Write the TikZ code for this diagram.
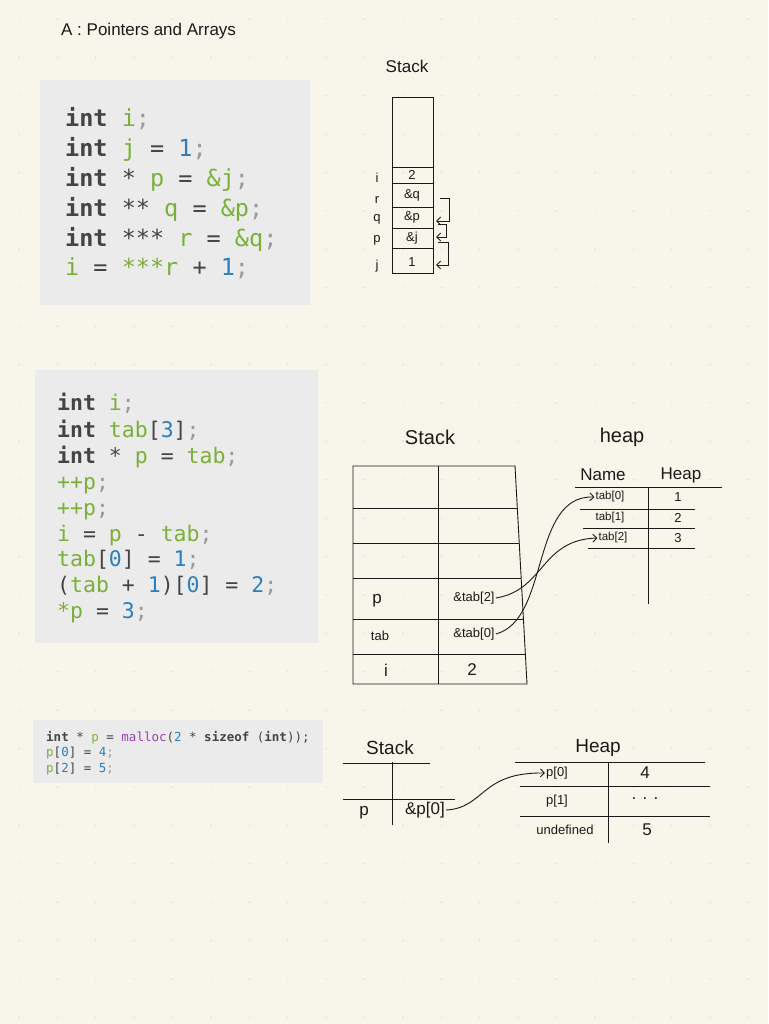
\documentclass[tikz,border=0pt]{standalone}
\usepackage{fontspec}
\setmainfont{Liberation Sans}
\newfontfamily\codefont{DejaVu Sans Mono}
\usetikzlibrary{arrows.meta}
\definecolor{bg}{HTML}{F8F6EA}
\definecolor{cbox}{HTML}{EBEBEB}
\definecolor{kw}{HTML}{444444}
\definecolor{idc}{HTML}{7AB03A}
\definecolor{nm}{HTML}{2C7FC0}
\definecolor{pu}{HTML}{9B3FB5}
\definecolor{sc}{HTML}{999999}
\definecolor{ink}{HTML}{1A1A1A}
\tikzset{
 hand/.style={font=\fontsize{17}{19}\selectfont, text=ink, inner sep=1pt},
 small/.style={font=\fontsize{13}{15}\selectfont, text=ink, inner sep=1pt},
 tiny/.style={font=\fontsize{11.5}{13}\selectfont, text=ink, inner sep=1pt},
 ln/.style={draw=ink, line width=0.9pt},
 arr/.style={draw=ink, line width=0.9pt, -{Straight Barb[length=4pt]}},
 codebase/.style={anchor=west, inner sep=0pt, text height=0.75em, text depth=0.25em},
 codeA/.style={codebase, yshift=-5pt, font=\codefont\fontsize{23.5}{25}\selectfont},
 codeB/.style={codebase, yshift=-4pt, font=\codefont\fontsize{21.5}{23}\selectfont},
 codeC/.style={codebase, yshift=-1.5pt, font=\codefont\fontsize{12.5}{14}\selectfont},
}
\newcommand{\cK}[1]{\textcolor{kw}{#1}}
\newcommand{\cT}[1]{\textcolor{kw}{\bfseries #1}}
\newcommand{\cI}[1]{\textcolor{idc}{#1}}
\newcommand{\cN}[1]{\textcolor{nm}{#1}}
\newcommand{\cS}{\textcolor{sc}{;}}
\begin{document}
\begin{tikzpicture}[x=1pt,y=-1pt]
\fill[bg] (0,0) rectangle (768,1024);
\useasboundingbox (0,0) rectangle (768,1024);
\foreach \i in {0,...,20} \foreach \j in {0,...,27} \fill[black!18] (\i*38.4+19,\j*38.4+19) circle (0.7);
% title
\node[hand, anchor=west] (title) at (60,31) {A : Pointers and Arrays};
% code box 1
\fill[cbox] (40,80) rectangle (310,305);
\node[codeA] (a1) at (65,119) {\cT{int} \cI{i}\cS};
\node[codeA] (a2) at (65,149) {\cT{int} \cI{j} \cK{=} \cN{1}\cS};
\node[codeA] (a3) at (65,179) {\cT{int} \cK{*} \cI{p} \cK{=} \cI{\&j}\cS};
\node[codeA] (a4) at (65,209) {\cT{int} \cK{**} \cI{q} \cK{=} \cI{\&p}\cS};
\node[codeA] (a5) at (65,239) {\cT{int} \cK{***} \cI{r} \cK{=} \cI{\&q}\cS};
\node[codeA] (a6) at (65,268) {\cI{i} \cK{=} \cI{***r} \cK{+} \cN{1}\cS};
% stack 1
\node[hand] (st1) at (407,66) {Stack};
\draw[ln] (392,97) rectangle (433,273);
\foreach \y in {167,183,207,228,248} \draw[ln] (392,\y) -- (433,\y);
\node[small] (li) at (377,178) {i};
\node[small] (lr) at (377,200) {r};
\node[small] (lq) at (377,219) {q};
\node[small] (lp) at (377,240) {p};
\node[small] (lj) at (377,266) {j};
\node[small] (v2) at (412,175) {2};
\node[small] (vq) at (412,195) {\&q};
\node[small] (vp) at (412,217) {\&p};
\node[small] (vj) at (412,238) {\&j};
\node[small] (v1) at (412,262) {1};
\coordinate (r1) at (440,198); \coordinate (r2) at (436,221);
\coordinate (q1) at (438,224); \coordinate (q2) at (436,237);
\coordinate (p1) at (438,242); \coordinate (p2) at (436,265);
\draw[arr] (r1) -- (449,198) -- (449,221) -- (r2);
\draw[arr] (q1) -- (446,224) -- (446,237) -- (q2);
\draw[arr] (p1) -- (448,242) -- (448,265) -- (p2);
% code box 2
\fill[cbox] (35,370) rectangle (318,643);
\node[codeB] (b1) at (57,404) {\cT{int} \cI{i}\cS};
\node[codeB] (b2) at (57,431) {\cT{int} \cI{tab}\cK{[}\cN{3}\cK{]}\cS};
\node[codeB] (b3) at (57,457) {\cT{int} \cK{*} \cI{p} \cK{=} \cI{tab}\cS};
\node[codeB] (b4) at (57,483) {\cI{++p}\cS};
\node[codeB] (b5) at (57,509) {\cI{++p}\cS};
\node[codeB] (b6) at (57,535) {\cI{i} \cK{=} \cI{p} \cK{-} \cI{tab}\cS};
\node[codeB] (b7) at (57,560) {\cI{tab}\cK{[}\cN{0}\cK{]} \cK{=} \cN{1}\cS};
\node[codeB] (b8) at (57,586) {\cK{(}\cI{tab} \cK{+} \cN{1}\cK{)[}\cN{0}\cK{]} \cK{=} \cN{2}\cS};
\node[codeB] (b9) at (57,612) {\cI{*p} \cK{=} \cN{3}\cS};
% stack 2
\node[hand, font=\fontsize{20}{22}\selectfont] (st2) at (430,437) {Stack};
\node[hand, font=\fontsize{20}{22}\selectfont] (hp2) at (622,437) {heap};
\draw[ln] (353,466) -- (515,466) -- (527,684) -- (353,684) -- cycle;
\draw[ln] (438,466) -- (438,684);
\foreach \y/\xr in {508/517.3,543/519.3,578/521.2,619/523.5,654/525.4} \draw[ln] (353,\y) -- (\xr,\y);
\node[hand] (sp) at (377,601) {p};
\node[small] (stab) at (380,636) {tab};
\node[hand] (si) at (386,670) {i};
\node[small] (sv2) at (474,598) {\&tab[2]};
\node[small] (sv0) at (474,634) {\&tab[0]};
\node[hand] (svi) at (472,670) {2};
% heap table 2
\node[hand] (hn) at (603,475) {Name};
\node[hand] (hh) at (681,475) {Heap};
\draw[ln] (575,487) -- (722,487);
\draw[ln] (580,509) -- (695,509);
\draw[ln] (583,528) -- (695,528);
\draw[ln] (588,548) -- (695,548);
\draw[ln] (648,487) -- (648,604);
\node[tiny] (t0) at (610,497) {tab[0]};
\node[tiny] (t1) at (610,518) {tab[1]};
\node[tiny] (t2) at (613,538) {tab[2]};
\node[small] (h1) at (678,497) {1};
\node[small] (h2) at (678,518) {2};
\node[small] (h3) at (678,538) {3};
\draw[arr] (sv2.east) .. controls (545,590) and (540,540) .. (t2.west);
\draw[arr] (sv0.east) .. controls (550,620) and (530,495) .. (t0.west);
% code box 3
\fill[cbox] (33,720) rectangle (323,783);
\node[codeC] (c1) at (46,737) {\cT{int} \cK{*} \cI{p} \cK{=} \textcolor{pu}{malloc}\cK{(}\cN{2} \cK{*} \cT{sizeof} \cK{(}\cT{int}\cK{));}};
\node[codeC] (c2) at (46,752) {\cI{p}\cK{[}\cN{0}\cK{]} \cK{=} \cN{4}\cS};
\node[codeC] (c3) at (46,768) {\cI{p}\cK{[}\cN{2}\cK{]} \cK{=} \cN{5}\cS};
% stack 3
\node[hand, font=\fontsize{19}{21}\selectfont] (st3) at (390,748) {Stack};
\draw[ln] (343,763) -- (430,763);
\draw[ln] (392,762) -- (392,825);
\draw[ln] (343,799) -- (455,799);
\node[hand] (s3p) at (364,813) {p};
\node[hand] (s3v) at (425,810) {\&p[0]};
% heap 3
\node[hand, font=\fontsize{19}{21}\selectfont] (hp3) at (598,748) {Heap};
\draw[ln] (515,762) -- (705,762);
\draw[ln] (520,786) -- (710,786);
\draw[ln] (520,816) -- (710,816);
\draw[ln] (608,762) -- (608,843);
\node[small] (q0) at (557,773) {p[0]};
\node[small] (q1) at (557,801) {p[1]};
\node[small] (q2) at (565,830) {undefined};
\node[hand] (w4) at (645,773) {4};
\node[hand] (wd) at (645,799) {. . .};
\node[hand] (w5) at (647,830) {5};
\draw[arr] (s3v.east) .. controls (485,808) and (480,772) .. (q0.west);
\end{tikzpicture}
\end{document}
